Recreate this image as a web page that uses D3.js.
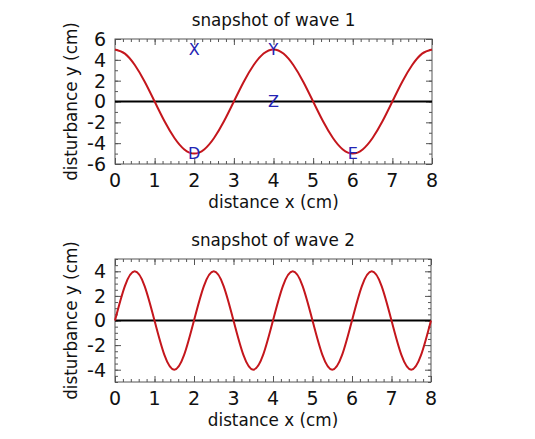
<!DOCTYPE html>
<html>
<head>
<meta charset="utf-8">
<script src="https://cdn.jsdelivr.net/npm/d3@7"></script>
<style>
    body { margin: 0; background: #fff; }
    svg text { font-family: "DejaVu Sans", sans-serif; fill: #111; }
</style>
</head>
<body>
<div id="chart"></div>
<script>
// distance samples (cm), read every 0.25 cm
const xSamples = [0, 0.25, 0.5, 0.75, 1, 1.25, 1.5, 1.75, 2, 2.25, 2.5, 2.75, 3, 3.25, 3.5, 3.75,
    4, 4.25, 4.5, 4.75, 5, 5.25, 5.5, 5.75, 6, 6.25, 6.5, 6.75, 7, 7.25, 7.5, 7.75, 8];

// wave 1 disturbance (cm)
const wave1Y = [5, 4.6, 3.5, 1.9, 0, -1.9, -3.5, -4.6, -5, -4.6, -3.5, -1.9, 0, 1.9, 3.5, 4.6,
    5, 4.6, 3.5, 1.9, 0, -1.9, -3.5, -4.6, -5, -4.6, -3.5, -1.9, 0, 1.9, 3.5, 4.6, 5];

// wave 2 disturbance (cm)
const wave2Y = [0, 2.8, 4, 2.8, 0, -2.8, -4, -2.8, 0, 2.8, 4, 2.8, 0, -2.8, -4, -2.8,
    0, 2.8, 4, 2.8, 0, -2.8, -4, -2.8, 0, 2.8, 4, 2.8, 0, -2.8, -4, -2.8, 0];

// point labels on wave 1
const markLabels = ['X', 'Y', 'Z', 'D', 'E'];
const markX = [2, 4, 4, 2, 6];
const markY = [5, 5, 0, -5, -5];

const xTicks = [0, 1, 2, 3, 4, 5, 6, 7, 8];
const yTicks1 = [-6, -4, -2, 0, 2, 4, 6];
const yTicks2 = [-4, -2, 0, 2, 4];

const titles = ['snapshot of wave 1', 'snapshot of wave 2'];
const xTitle = 'distance x (cm)';
const yTitle = 'disturbance y (cm)';

const WIDTH = 535, HEIGHT = 439;
const LABEL_FONT = 19;
const TITLE_FONT = 16.8;

let svg = d3.select('#chart').append('svg')
    .attr('width', WIDTH)
    .attr('height', HEIGHT);

function drawPanel(cfg) {
    let box = cfg.box;
    let g = svg.append('g')
        .attr('transform', 'translate(' + box.x + ',' + box.y + ')');

    let x = d3.scaleLinear().domain([0, 8]).range([0, box.width]);
    let y = d3.scaleLinear().domain(cfg.yDomain).range([box.height, 0]);

    // minor ticks, inward on all four sides
    let minorX = d3.range(0, 8.0001, 0.2);
    let minorY = d3.range(cfg.yDomain[0], cfg.yDomain[1] + 0.0001, cfg.yMinor);

    let addTicks = function (axisFn, scale, values, size, transform) {
        g.append('g')
            .attr('class', 'ticks')
            .attr('transform', transform)
            .call(axisFn(scale).tickValues(values).tickSize(size).tickFormat(''))
            .call(s => s.select('.domain').remove())
            .call(s => s.selectAll('line').attr('stroke', '#555').attr('stroke-width', 1));
    };

    addTicks(d3.axisTop, x, minorX, 3, 'translate(0,' + box.height + ')');
    addTicks(d3.axisTop, x, xTicks, 6, 'translate(0,' + box.height + ')');
    addTicks(d3.axisBottom, x, minorX, 3, 'translate(0,0)');
    addTicks(d3.axisBottom, x, xTicks, 6, 'translate(0,0)');
    addTicks(d3.axisRight, y, minorY, 3, 'translate(0,0)');
    addTicks(d3.axisRight, y, cfg.yTicks, 6, 'translate(0,0)');
    addTicks(d3.axisLeft, y, minorY, 3, 'translate(' + box.width + ',0)');
    addTicks(d3.axisLeft, y, cfg.yTicks, 6, 'translate(' + box.width + ',0)');

    // tick labels
    g.append('g')
        .selectAll('text')
        .data(xTicks)
        .join('text')
        .attr('x', d => x(d))
        .attr('y', box.height + 23)
        .attr('text-anchor', 'middle')
        .attr('font-size', LABEL_FONT)
        .text(d => d);

    g.append('g')
        .selectAll('text')
        .data(cfg.yTicks)
        .join('text')
        .attr('x', -9)
        .attr('y', d => y(d))
        .attr('dy', '0.36em')
        .attr('text-anchor', 'end')
        .attr('font-size', LABEL_FONT)
        .text(d => d);

    // frame
    g.append('rect')
        .attr('width', box.width)
        .attr('height', box.height)
        .attr('fill', 'none')
        .attr('stroke', '#555')
        .attr('stroke-width', 1);

    // zero line
    g.append('line')
        .attr('x1', 0)
        .attr('x2', box.width)
        .attr('y1', y(0))
        .attr('y2', y(0))
        .attr('stroke', '#000')
        .attr('stroke-width', 2);

    // wave
    let line = d3.line()
        .x((d, i) => x(xSamples[i]))
        .y(d => y(d))
        .curve(d3.curveNatural);

    g.append('path')
        .datum(cfg.values)
        .attr('d', line)
        .attr('fill', 'none')
        .attr('stroke', '#c4161c')
        .attr('stroke-width', 2);

    if (cfg.marks) {
        g.append('g')
            .selectAll('text')
            .data(markLabels)
            .join('text')
            .attr('x', (d, i) => x(markX[i]))
            .attr('y', (d, i) => y(markY[i]))
            .attr('dy', '0.36em')
            .attr('text-anchor', 'middle')
            .attr('font-size', 16)
            .style('fill', '#2424b4')
            .text(d => d);
    }

    // titles
    g.append('text')
        .attr('x', box.width / 2)
        .attr('y', -13)
        .attr('text-anchor', 'middle')
        .attr('font-size', TITLE_FONT)
        .text(cfg.title);

    g.append('text')
        .attr('x', box.width / 2)
        .attr('y', box.height + 44)
        .attr('text-anchor', 'middle')
        .attr('font-size', TITLE_FONT)
        .text(xTitle);

    g.append('text')
        .attr('transform', 'translate(-38,' + (box.height / 2) + ') rotate(-90)')
        .attr('text-anchor', 'middle')
        .attr('font-size', TITLE_FONT)
        .text(yTitle);
}

drawPanel({
    box: { x: 115, y: 39, width: 317, height: 125 },
    yDomain: [-6, 6],
    yTicks: yTicks1,
    yMinor: 1,
    values: wave1Y,
    title: titles[0],
    marks: true
});

drawPanel({
    box: { x: 115, y: 259, width: 316, height: 123 },
    yDomain: [-5, 5],
    yTicks: yTicks2,
    yMinor: 0.5,
    values: wave2Y,
    title: titles[1],
    marks: false
});
</script>
</body>
</html>
